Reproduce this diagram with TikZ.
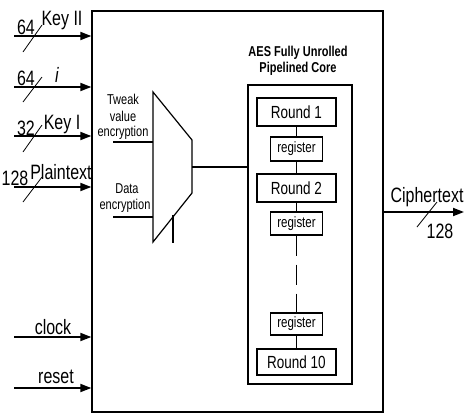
\documentclass[tikz,border=0pt]{standalone}
\usepackage{fontspec}
\setmainfont{Liberation Sans}
\usetikzlibrary{arrows.meta}
\newcommand{\tl}[1]{\scalebox{1}[1.3]{#1}}
\begin{document}
\begin{tikzpicture}[x=1pt,y=-1pt,
 lbl/.style={inner sep=0pt, font=\fontsize{16}{19}\selectfont},
 sml/.style={inner sep=0pt, font=\fontsize{11}{13}\selectfont},
 ttl/.style={inner sep=0pt, font=\fontsize{11}{13}\selectfont\bfseries},
 sig/.style={line width=1.8pt, -{Triangle[length=11pt,width=8pt]}},
 bus/.style={line width=0.8pt},
 roundbox/.style={draw, line width=1.6pt, minimum width=79pt, inner sep=0pt, font=\fontsize{13.5}{16}\selectfont},
 regbox/.style={draw, line width=1.3pt, minimum width=52pt, inner sep=0pt, font=\fontsize{11.5}{14}\selectfont},
 link/.style={line width=1.8pt},
]
\useasboundingbox (0,0) rectangle (474,418);
\fill[white] (0,0) rectangle (474,418);

% outer and inner boxes
\node[draw, line width=1.3pt, minimum width=291pt, minimum height=401pt, inner sep=0pt] (outer) at (237.5,211.5) {};
\node[draw, line width=1.3pt, minimum width=104pt, minimum height=299pt, inner sep=0pt] (inner) at (300,234.5) {};

% title
\node[ttl] (t1) at (298,53) {\tl{AES Fully Unrolled}};
\node[ttl] (t2) at (298,69) {\tl{Pipelined Core}};

% rounds and registers
\node[roundbox, minimum height=28pt] (r1) at (296.5,112) {\tl{Round 1}};
\node[regbox, minimum height=24pt] (g1) at (296.5,149) {\tl{register}};
\node[roundbox, minimum height=28pt] (r2) at (296.5,188) {\tl{Round 2}};
\node[regbox, minimum height=23pt] (g2) at (296.5,223.5) {\tl{register}};
\node[regbox, minimum height=22pt] (g3) at (296.5,324) {\tl{register}};
\node[roundbox, minimum height=26pt] (r10) at (296.5,362) {\tl{Round 10}};
\draw[link] (r1) -- (g1);
\draw[link] (g1) -- (r2);
\draw[link] (r2) -- (g2);
\draw[link, dash pattern=on 20pt off 9pt] (g2) -- (g3);
\draw[link] (g3) -- (r10);

% multiplexer
\coordinate (m1) at (153,92);
\coordinate (m2) at (192,140);
\coordinate (m3) at (192,193);
\coordinate (m4) at (153,242);
\draw[line width=1.2pt, line join=miter] (m1) -- (m2) -- (m3) -- (m4) -- cycle;
\coordinate (mo) at (192,167);
\draw[line width=1.4pt] (mo) -- (mo -| inner.west);
\coordinate (ti) at (113,142);
\coordinate (di) at (113,217);
\draw[line width=1.4pt] (ti) -- (ti -| m1);
\draw[line width=1.4pt] (di) -- (di -| m1);
\coordinate (s1) at (173,215);
\coordinate (s2) at (173,243);
\draw[line width=2pt] (s1) -- (s2);
\node[sml] (tw1) at (123,99) {\tl{Tweak}};
\node[sml] (tw2) at (123,116) {\tl{value}};
\node[sml] (tw3) at (123,133) {\tl{encryption}};
\node[sml] (da1) at (127,189) {\tl{Data}};
\node[sml] (da2) at (125,206) {\tl{encryption}};

% inputs
\coordinate (k2) at (14,36);
\coordinate (iv) at (14,87);
\coordinate (k1) at (14,136);
\coordinate (pt) at (14,187);
\coordinate (ck) at (14,337);
\coordinate (rs) at (14,388);
\draw[sig] (k2) -- (k2 -| outer.west);
\draw[sig] (iv) -- (iv -| outer.west);
\draw[sig] (k1) -- (k1 -| outer.west);
\draw[sig] (pt) -- (pt -| outer.west);
\draw[sig] (ck) -- (ck -| outer.west);
\draw[sig] (rs) -- (rs -| outer.west);
\draw[bus] (23,52) -- (42,25);
\draw[bus] (23,102) -- (42,77);
\draw[bus] (23,152) -- (42,125);
\draw[bus] (23,202) -- (42,177);
\node[lbl] (n64a) at (26,27) {\tl{64}};
\node[lbl] (lk2) at (62,21) {\tl{Key II}};
\node[lbl] (n64b) at (26,78) {\tl{64}};
\node[lbl] (li) at (57,75) {\tl{\itshape i}};
\node[lbl] (n32) at (26,128) {\tl{32}};
\node[lbl] (lk1) at (62,124) {\tl{Key I}};
\node[lbl] (n128a) at (15,178) {\tl{128}};
\node[lbl] (lpt) at (61,172) {\tl{Plaintext}};
\node[lbl] (lck) at (53,327) {\tl{clock}};
\node[lbl] (lrs) at (56,377) {\tl{reset}};

% output
\coordinate (ct) at (464,212);
\draw[sig] (ct -| outer.east) -- (ct);
\draw[bus] (417,227) -- (437,202);
\node[lbl] (lct) at (427,197) {\tl{Ciphertext}};
\node[lbl] (n128b) at (440,231) {\tl{128}};
\end{tikzpicture}
\end{document}
